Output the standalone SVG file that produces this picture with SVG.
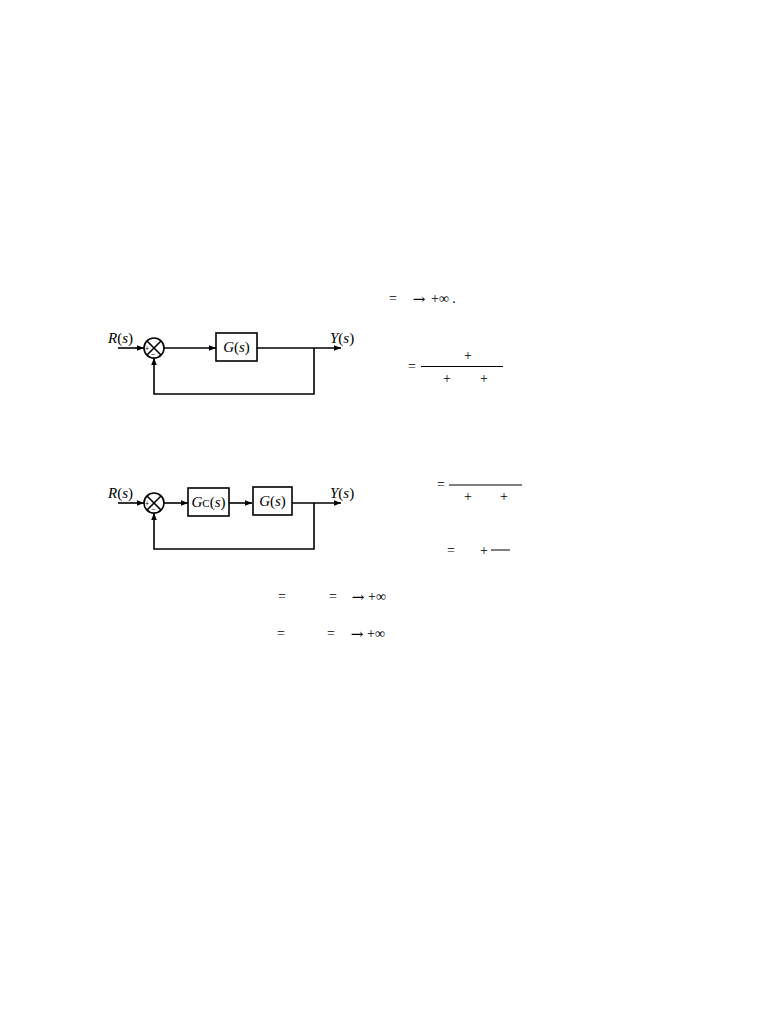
<svg xmlns="http://www.w3.org/2000/svg" width="768" height="1024" viewBox="0 0 768 1024">
<style>
.ln{stroke:#000;stroke-width:1.6;fill:none}
.bx{stroke:#000;stroke-width:1.6;fill:#fff}
.t{font-family:"Liberation Serif","DejaVu Serif",serif;font-size:15px;fill:#000}
.i{font-style:italic}
.m{font-family:"Liberation Serif","DejaVu Serif",serif;font-size:14px;fill:#000}
.a{font-family:"DejaVu Serif",serif;font-size:15px;fill:#000}
.s{font-family:"Liberation Sans",sans-serif;font-size:7px;fill:#000}
</style>
<defs>
<marker id="ar" viewBox="0 0 10 10" refX="10" refY="5" markerWidth="7" markerHeight="7" markerUnits="userSpaceOnUse" orient="auto">
<path d="M0,1 L10,5 L0,9 z" fill="#000"/>
</marker>
</defs>
<rect width="768" height="1024" fill="#fff"/>

<g id="connectors">
<line class="ln" x1="118" y1="348" x2="144" y2="348" marker-end="url(#ar)"/>
<line class="ln" x1="164" y1="348" x2="216" y2="348" marker-end="url(#ar)"/>
<line class="ln" x1="257" y1="348" x2="341" y2="348" marker-end="url(#ar)"/>
<polyline class="ln" points="314,348 314,394 154,394 154,358" marker-end="url(#ar)"/>

<line class="ln" x1="118" y1="503" x2="144" y2="503" marker-end="url(#ar)"/>
<line class="ln" x1="164" y1="503" x2="188" y2="503" marker-end="url(#ar)"/>
<line class="ln" x1="229" y1="503" x2="252" y2="503" marker-end="url(#ar)"/>
<line class="ln" x1="292" y1="503" x2="341" y2="503" marker-end="url(#ar)"/>
<polyline class="ln" points="314,503 314,549 154,549 154,513" marker-end="url(#ar)"/>
</g>

<g id="sum1">
<circle class="bx" cx="154" cy="348" r="10"/>
<line class="ln" x1="147" y1="341" x2="161" y2="355"/>
<line class="ln" x1="161" y1="341" x2="147" y2="355"/>
<text class="s" x="145" y="351">+</text>
<text class="s" x="151" y="357">−</text>
</g>
<g id="G1">
<rect class="bx" x="216" y="333" width="41" height="28"/>
<text class="t" x="236.5" y="352" text-anchor="middle"><tspan class="i">G</tspan>(<tspan class="i">s</tspan>)</text>
</g>
<g id="R1"><text class="t" x="108" y="343"><tspan class="i">R</tspan>(<tspan class="i">s</tspan>)</text></g>
<g id="Y1"><text class="t" x="330" y="343"><tspan class="i">Y</tspan>(<tspan class="i">s</tspan>)</text></g>

<g id="sum2">
<circle class="bx" cx="154" cy="503" r="10"/>
<line class="ln" x1="147" y1="496" x2="161" y2="510"/>
<line class="ln" x1="161" y1="496" x2="147" y2="510"/>
<text class="s" x="145" y="506">+</text>
<text class="s" x="151" y="512">−</text>
</g>
<g id="Gc">
<rect class="bx" x="188" y="488" width="41" height="28"/>
<text class="t" x="208.5" y="507" text-anchor="middle"><tspan class="i">G</tspan><tspan font-size="11">C</tspan>(<tspan class="i">s</tspan>)</text>
</g>
<g id="G2">
<rect class="bx" x="253" y="487" width="39" height="28"/>
<text class="t" x="272.5" y="506" text-anchor="middle"><tspan class="i">G</tspan>(<tspan class="i">s</tspan>)</text>
</g>
<g id="R2"><text class="t" x="108" y="498"><tspan class="i">R</tspan>(<tspan class="i">s</tspan>)</text></g>
<g id="Y2"><text class="t" x="330" y="498"><tspan class="i">Y</tspan>(<tspan class="i">s</tspan>)</text></g>

<g id="eq1">
<text class="m" x="393" y="303" text-anchor="middle">=</text>
<text class="a" x="419" y="304" text-anchor="middle">→</text>
<text class="m" x="440" y="303" text-anchor="middle">+∞</text>
<text class="m" x="454" y="303" text-anchor="middle">.</text>
</g>
<g id="eq2">
<text class="m" x="412" y="371" text-anchor="middle">=</text>
<line x1="421" y1="366.5" x2="503" y2="366.5" stroke="#000" stroke-width="1"/>
<text class="m" x="468" y="360" text-anchor="middle">+</text>
<text class="m" x="447" y="383" text-anchor="middle">+</text>
<text class="m" x="484" y="383" text-anchor="middle">+</text>
</g>
<g id="eq3">
<text class="m" x="441" y="489" text-anchor="middle">=</text>
<line x1="449" y1="485" x2="522" y2="485" stroke="#000" stroke-width="1"/>
<text class="m" x="468" y="501" text-anchor="middle">+</text>
<text class="m" x="504" y="501" text-anchor="middle">+</text>
</g>
<g id="eq4">
<text class="m" x="451" y="555" text-anchor="middle">=</text>
<text class="m" x="484" y="555" text-anchor="middle">+</text>
<line x1="491" y1="550" x2="510" y2="550" stroke="#000" stroke-width="1"/>
</g>
<g id="eq5">
<text class="m" x="282" y="601" text-anchor="middle">=</text>
<text class="m" x="333" y="601" text-anchor="middle">=</text>
<text class="a" x="358" y="602" text-anchor="middle">→</text>
<text class="m" x="377" y="601" text-anchor="middle">+∞</text>
</g>
<g id="eq6">
<text class="m" x="281" y="638" text-anchor="middle">=</text>
<text class="m" x="331" y="638" text-anchor="middle">=</text>
<text class="a" x="357" y="639" text-anchor="middle">→</text>
<text class="m" x="376" y="638" text-anchor="middle">+∞</text>
</g>
</svg>
